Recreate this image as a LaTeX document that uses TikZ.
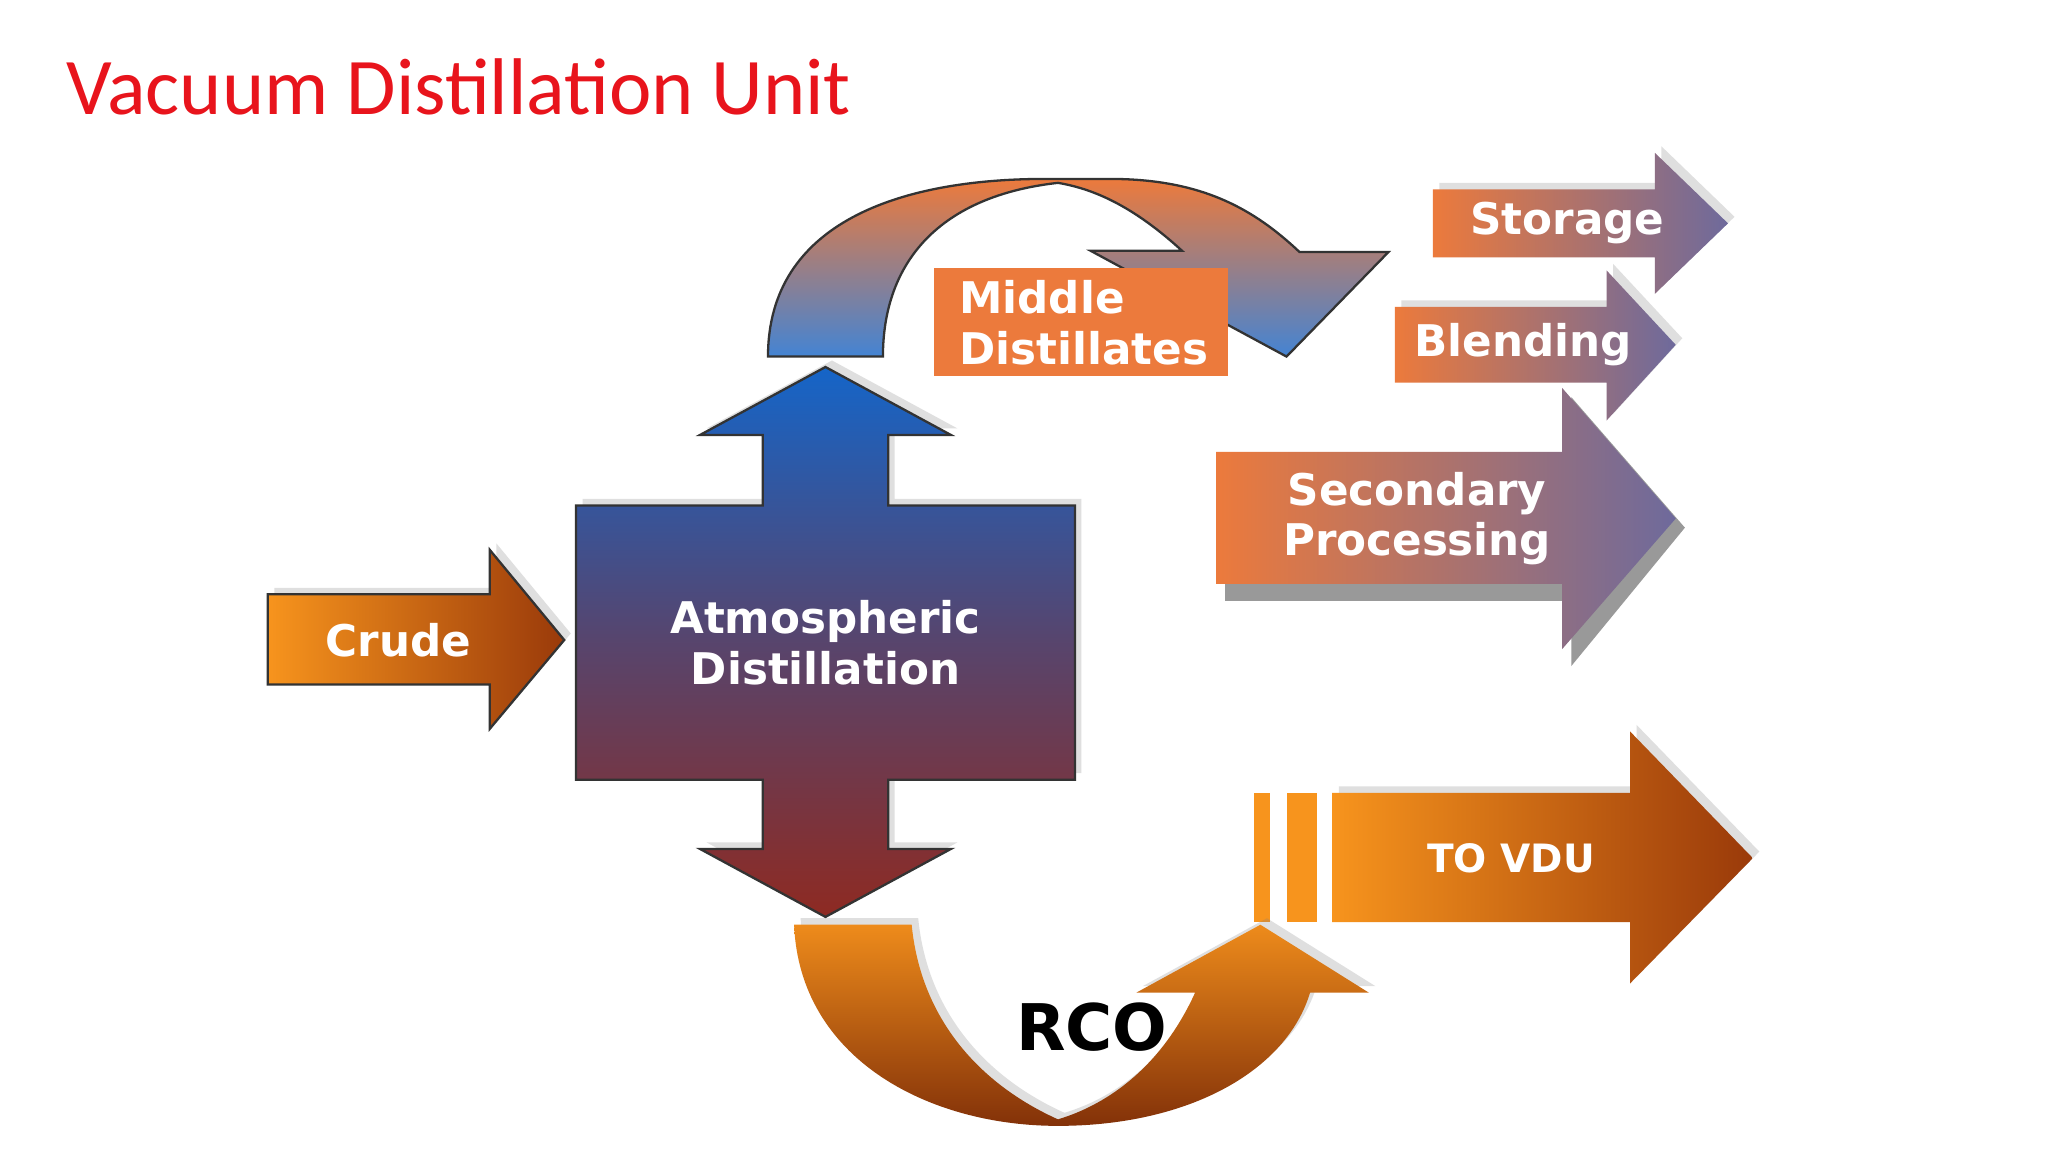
\documentclass[tikz,border=0pt]{standalone}
\usepackage{fontspec}
\setmainfont{DejaVu Sans}
\newfontfamily\titlefont{Carlito}
\usetikzlibrary{shadows}
\definecolor{org}{HTML}{F7941D}
\definecolor{brn}{HTML}{9A3A0A}
\definecolor{lav}{HTML}{6E6A9C}
\definecolor{oarr}{HTML}{EC7A3C}
\definecolor{blu}{HTML}{1565C8}
\definecolor{redb}{HTML}{8E2A22}
\definecolor{ttl}{HTML}{E8141C}
\begin{document}
\begin{tikzpicture}[x=0.01cm,y=-0.01cm,
  shp/.style={draw=black!80,line width=0.5pt,drop shadow={shadow xshift=5,shadow yshift=-5,opacity=0.25}},
  lbl/.style={text=white,font=\bfseries\fontsize{9.5}{11}\selectfont,align=center}]
\useasboundingbox[fill=white] (0,0) rectangle (1568,882);
\node[anchor=base west,text=ttl,font=\titlefont\fontsize{17.5}{20}\selectfont,inner sep=0] (title) at (50,88) {Vacuum Distillation Unit};
% crude
\shade[shp,left color=org,right color=brn] (205,455) -- (375,455) -- (375,421) -- (432,490) -- (375,558) -- (375,524) -- (205,524) -- cycle;
\node[lbl] (crude) at (305,490) {Crude};
% atmospheric block
\shade[shp,top color=blu,bottom color=redb,middle color=blu!45!redb] (632,281) -- (728,333) -- (680,333) -- (680,387) -- (823,387) -- (823,597) -- (680,597) -- (680,650) -- (728,650) -- (632,702) -- (536,650) -- (584,650) -- (584,597) -- (441,597) -- (441,387) -- (584,387) -- (584,333) -- (536,333) -- cycle;
\node[lbl] (atm) at (632,492) {Atmospheric\\Distillation};
% top curved arrow
\shade[draw=black!80,line width=0.5pt,top color=oarr,bottom color=blu!80]
  (588,273) .. controls (588,170) and (690,137) .. (800,137) -- (850,137)
  .. controls (920,137) and (960,160) .. (995,193) -- (1063,193) -- (985,273) -- (835,192) -- (905,192)
  .. controls (870,160) and (840,145) .. (810,140) .. controls (720,150) and (676,200) .. (676,273) -- cycle;
% middle distillates
\fill[oarr] (715,205) rectangle (940,288);
\node[lbl,align=left,anchor=west] (mid) at (722,247) {Middle\\Distillates};
% storage
\shade[shp,draw=none,left color=oarr,right color=lav] (1097,145) -- (1267,145) -- (1267,117) -- (1323,171) -- (1267,225) -- (1267,197) -- (1097,197) -- cycle;
\node[lbl] (sto) at (1200,171) {Storage};
% blending
\shade[shp,draw=none,left color=oarr,right color=lav] (1068,235) -- (1230,235) -- (1230,207) -- (1283,264) -- (1230,322) -- (1230,293) -- (1068,293) -- cycle;
\node[lbl] (ble) at (1166,264) {Blending};
% secondary processing
\fill[gray!80] (938,353) -- (1203,353) -- (1203,304) -- (1290,404) -- (1203,510) -- (1203,460) -- (938,460) -- cycle;
\shade[left color=oarr,right color=lav] (931,346) -- (1196,346) -- (1196,297) -- (1283,397) -- (1196,497) -- (1196,447) -- (931,447) -- cycle;
\node[lbl] (sec) at (1085,397) {Secondary\\Processing};
% TO VDU
\fill[org] (960,607) rectangle (972,706);
\fill[org] (985,607) rectangle (1008,706);
\shade[shp,draw=none,left color=org,right color=brn] (1020,607) -- (1248,607) -- (1248,560) -- (1342,657) -- (1248,753) -- (1248,706) -- (1020,706) -- cycle;
\node[lbl,font=\bfseries\fontsize{8.5}{10}\selectfont] (vdu) at (1157,657) {TO VDU};
% RCO curved arrow
\shade[shp,draw=none,top color=org!90!brn,bottom color=brn!85!black]
  (608,708) .. controls (612,810) and (710,862) .. (810,862)
  .. controls (910,862) and (985,820) .. (1003,760) -- (1048,760) -- (965,708) -- (870,760) -- (915,760)
  .. controls (890,815) and (850,845) .. (810,857)
  .. controls (750,830) and (705,780) .. (698,708) -- cycle;
\node[font=\bfseries\fontsize{14}{16}\selectfont] (rco) at (836,786) {RCO};
\end{tikzpicture}
\end{document}
